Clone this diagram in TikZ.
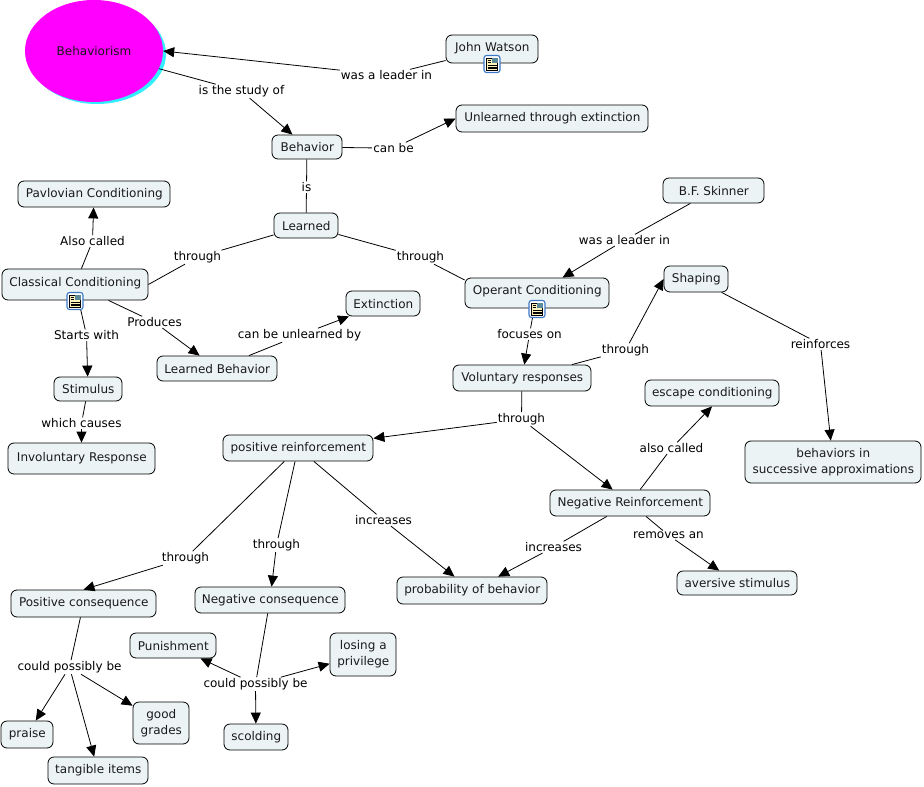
\documentclass[tikz,border=0pt]{standalone}
\usepackage{fontspec}
\setmainfont{DejaVu Sans}
\usetikzlibrary{arrows.meta,shapes.geometric}
\definecolor{nodefill}{HTML}{ECF3F5}
\definecolor{txt}{HTML}{1A1A1A}
\definecolor{iconblue}{HTML}{3C78C8}
\definecolor{iconpage}{HTML}{FBF3B8}
\definecolor{iconpic}{HTML}{5A8A9A}
\definecolor{magentafill}{HTML}{FF00FF}
\definecolor{cyanshadow}{HTML}{33EEFF}
\tikzset{
  concept/.style={draw=black,fill=nodefill,rounded corners=6pt,line width=0.8pt,inner sep=0pt},
  ctext/.style={align=center,inner sep=0pt,text=txt,font=\fontsize{12}{16}\selectfont},
  link/.style={inner sep=1pt,text=black,font=\fontsize{12}{14}\selectfont},
  edge/.style={draw=black,line width=0.8pt},
  arr/.style={edge,-{Triangle[length=11pt,width=10pt]}}
}
\newcommand{\cnshift}[7]{\node[concept,minimum width=#4pt-#2pt,minimum height=#5pt-#3pt] (#1) at ({(#2+#4)/2},{(#3+#5)/2}) {};
  \node[ctext] (#1t) at ([shift={(0.3,#7)}]#1.center) {#6};}
\newcommand{\cn}[6]{\cnshift{#1}{#2}{#3}{#4}{#5}{#6}{0.1}}
\newcommand{\lb}[4]{\node[link] (#1) at (#2+0.5,#3+0.2) {#4};}
\newcommand{\docicon}[2]{%
  \draw[draw=iconblue,fill=white,rounded corners=2.5pt,line width=1.1pt] (#1-8,#2-8.5) rectangle (#1+8,#2+8.5);
  \fill[iconpage,draw=black,line width=0.5pt] (#1-5.5,#2-6) rectangle (#1+5.5,#2+6);
  \fill[iconpic] (#1,#2-6) rectangle (#1+5.5,#2-1);
  \foreach \q in {0.8,2.8,4.6}{\draw[black,line width=0.5pt] (#1-4.5,#2+\q) -- (#1+4.5,#2+\q);}
  \draw[black,line width=0.5pt] (#1-4.5,#2-4) -- (#1-1,#2-4) (#1-4.5,#2-2) -- (#1-1,#2-2);
}
\begin{document}
\begin{tikzpicture}[x=1pt,y=-1pt]
\useasboundingbox (0,0) rectangle (924,787);
% links
\lb{l1}{386}{75}{was a leader in}
\lb{l2}{241}{91}{is the study of}
\lb{l3}{393}{148}{can be}
\lb{l4}{306}{187}{is}
\lb{l5}{92}{241}{Also called}
\lb{l6}{197}{257}{through}
\lb{l7}{420}{257}{through}
\lb{l8}{624}{240}{was a leader in}
\lb{l9}{86}{335}{Starts with}
\lb{l10}{154}{322}{Produces}
\lb{l11}{299}{335}{can be unlearned by}
\lb{l12}{529}{334}{focuses on}
\lb{l13}{625}{350}{through}
\lb{l14}{820}{344}{reinforces}
\lb{l15}{81}{423}{which causes}
\lb{l16}{521}{419}{through}
\lb{l17}{671}{448}{also called}
\lb{l18}{383}{520}{increases}
\lb{l19}{276}{545}{through}
\lb{l20}{185}{558}{through}
\lb{l21}{553}{547}{increases}
\lb{l22}{668}{535}{removes an}
\lb{l23}{69}{667}{could possibly be}
\lb{l24}{255}{684}{could possibly be}
% concepts
\fill[cyanshadow] (97,54) ellipse [x radius=69,y radius=50];
\node[ellipse,fill=magentafill,minimum width=138pt,minimum height=102pt,inner sep=0pt,text=txt,font=\fontsize{12}{16}\selectfont] (beh) at (94,51) {Behaviorism};
\cnshift{watson}{446}{35}{538}{63}{John Watson}{-0.8}
\cn{behavior}{272}{135}{342}{159}{Behavior}
\cn{unl}{456}{105}{648}{132}{Unlearned through extinction}
\cn{pav}{18}{181}{170}{207}{Pavlovian Conditioning}
\cn{learned}{274}{213}{338}{238}{Learned}
\cn{skinner}{663}{178}{764}{203}{B.F. Skinner}
\cnshift{classical}{2}{269}{148}{300}{Classical Conditioning}{-1.8}
\cnshift{operant}{465}{278}{609}{308}{Operant Conditioning}{-1.8}
\cn{shaping}{664}{266}{728}{292}{Shaping}
\cn{ext}{346}{291}{420}{316}{Extinction}
\cn{lbeh}{157}{356}{277}{381}{Learned Behavior}
\cn{stim}{54}{377}{122}{401}{Stimulus}
\cn{vol}{453}{365}{591}{391}{Voluntary responses}
\cn{esc}{645}{380}{779}{406}{escape conditioning}
\cn{posr}{223}{435}{373}{461}{positive reinforcement}
\cn{inv}{8}{443}{155}{474}{Involuntary Response}
\cn{succ}{745}{441}{921}{483}{behaviors in\\successive approximations}
\cn{negr}{550}{490}{710}{516}{Negative Reinforcement}
\cn{avers}{677}{571}{797}{595}{aversive stimulus}
\cn{prob}{397}{577}{547}{604}{probability of behavior}
\cn{posc}{11}{590}{156}{617}{Positive consequence}
\cn{negc}{195}{587}{345}{613}{Negative consequence}
\cn{pun}{130}{633}{216}{658}{Punishment}
\cn{los}{330}{633}{396}{676}{losing a\\privilege}
\cn{good}{133}{702}{189}{744}{good\\grades}
\cn{praise}{1}{721}{53}{748}{praise}
\cn{scold}{224}{724}{288}{750}{scolding}
\cn{tang}{48}{757}{148}{784}{tangible items}
% connectors
\draw[edge] (watson) -- (l1);
\draw[arr] (l1) -- (beh.east);
\draw[edge] (beh) -- (l2);
\draw[arr] (l2) -- (behavior);
\draw[edge] (behavior) -- (l3);
\draw[arr] (l3) -- (unl.west);
\draw[edge] (behavior) -- (l4);
\draw[edge] (l4) -- (learned);
\draw[edge] (classical) -- (l5);
\draw[arr] (l5) -- (pav);
\draw[edge] (learned) -- (l6);
\draw[edge] (l6) -- (classical.east);
\draw[edge] (learned) -- (l7);
\draw[edge] (l7) -- ([yshift=13pt]operant.west);
\draw[edge] (skinner) -- (l8);
\draw[arr] (l8) -- (operant);
\draw[edge] (classical) -- (l9);
\draw[arr] (l9) -- (stim);
\draw[edge] (classical) -- (l10);
\draw[arr] (l10) -- (lbeh);
\draw[edge] (lbeh) -- (l11);
\draw[arr] (l11) -- (ext);
\draw[edge] (operant) -- (l12);
\draw[arr] (l12) -- (vol);
\draw[edge] (vol) -- (l13);
\draw[arr] (l13) -- (shaping.west);
\draw[edge] (shaping) -- (l14);
\draw[arr] (l14) -- (succ);
\draw[edge] (stim) -- (l15);
\draw[arr] (l15) -- (inv);
\draw[edge] (vol) -- (l16);
\draw[arr] (l16) -- (posr);
\draw[arr] (l16) -- (negr);
\draw[edge] (negr) -- (l17);
\draw[arr] (l17) -- (esc.south);
\draw[edge] (posr) -- (l18);
\draw[arr] (l18) -- (prob);
\draw[edge] (posr) -- (l19);
\draw[arr] (l19) -- (negc);
\draw[edge] (posr) -- (l20);
\draw[arr] (l20) -- (posc.north);
\draw[edge] (negr) -- (l21);
\draw[arr] (l21) -- (prob);
\draw[edge] (negr) -- (l22);
\draw[arr] (l22) -- (avers);
\draw[edge] (posc) -- (l23);
\draw[arr] (l23) -- (praise);
\draw[arr] (l23) -- (tang);
\draw[arr] (l23) -- (good);
\draw[edge] (negc) -- (l24);
\draw[arr] (l24) -- (pun);
\draw[arr] (l24) -- (los);
\draw[arr] (l24) -- (scold);
% icons
\docicon{492}{64}
\docicon{75}{301}
\docicon{537}{309}
\end{tikzpicture}
\end{document}
